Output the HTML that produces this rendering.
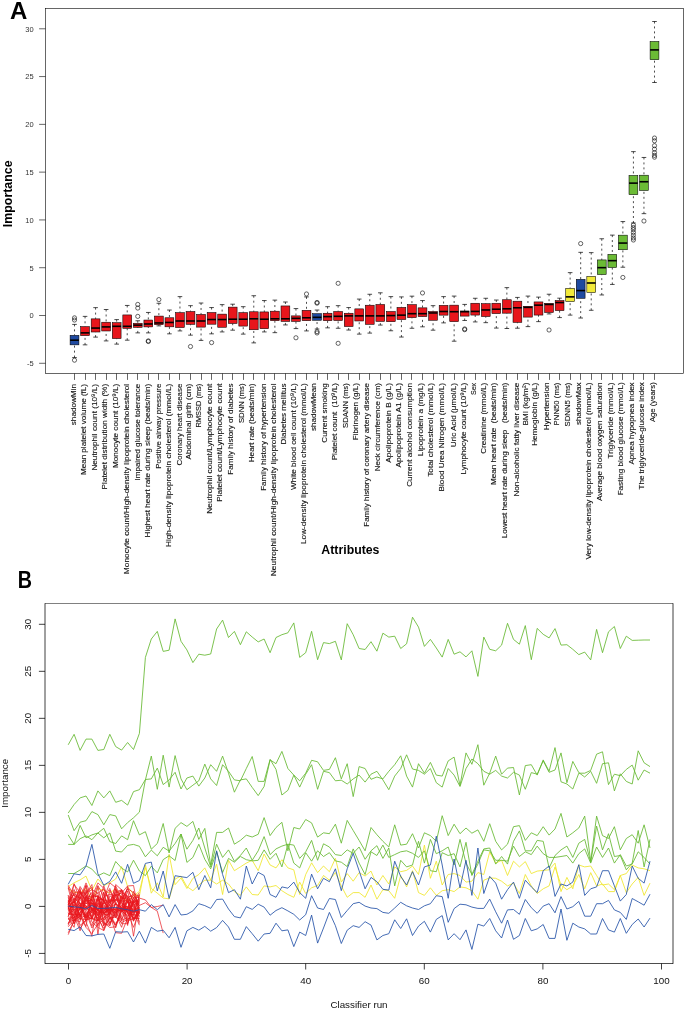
<!DOCTYPE html>
<html lang="en"><head><meta charset="utf-8"><title>Boruta feature importance</title>
<style>
html,body{margin:0;padding:0;background:#fff;}
svg{display:block;font-family:"Liberation Sans",sans-serif;}
.lab{font-size:8px;fill:#151515;stroke:#151515;stroke-width:0.13px;}
.tk{font-size:7.5px;fill:#333;}
.tkb{font-size:9.8px;fill:#111;}
.bold{font-weight:bold;fill:#000;}
</style></head><body>
<svg width="685" height="1009" viewBox="0 0 685 1009">
<rect width="685" height="1009" fill="#fff"/>
<g id="panelA">
<text x="10" y="19.2" class="bold" font-size="24">A</text>
<g stroke="#000" stroke-width="0.6" fill="none">
<rect x="45.5" y="8.5" width="638.1" height="365.0"/>
<path d="M39.1 363.29H45.5M39.1 315.50H45.5M39.1 267.71H45.5M39.1 219.93H45.5M39.1 172.14H45.5M39.1 124.36H45.5M39.1 76.57H45.5M39.1 28.79H45.5M74.5 373.5v6.4M85.5 373.5v6.4M95.5 373.5v6.4M106.5 373.5v6.4M116.5 373.5v6.4M127.5 373.5v6.4M137.5 373.5v6.4M148.5 373.5v6.4M158.5 373.5v6.4M169.5 373.5v6.4M179.5 373.5v6.4M190.5 373.5v6.4M201.5 373.5v6.4M211.5 373.5v6.4M222.5 373.5v6.4M232.5 373.5v6.4M243.5 373.5v6.4M253.5 373.5v6.4M264.5 373.5v6.4M274.5 373.5v6.4M285.5 373.5v6.4M295.5 373.5v6.4M306.5 373.5v6.4M317.5 373.5v6.4M327.5 373.5v6.4M338.5 373.5v6.4M348.5 373.5v6.4M359.5 373.5v6.4M369.5 373.5v6.4M380.5 373.5v6.4M390.5 373.5v6.4M401.5 373.5v6.4M411.5 373.5v6.4M422.5 373.5v6.4M433.5 373.5v6.4M443.5 373.5v6.4M454.5 373.5v6.4M464.5 373.5v6.4M475.5 373.5v6.4M485.5 373.5v6.4M496.5 373.5v6.4M506.5 373.5v6.4M517.5 373.5v6.4M527.5 373.5v6.4M538.5 373.5v6.4M549.5 373.5v6.4M559.5 373.5v6.4M570.5 373.5v6.4M580.5 373.5v6.4M591.5 373.5v6.4M601.5 373.5v6.4M612.5 373.5v6.4M622.5 373.5v6.4M633.5 373.5v6.4M643.5 373.5v6.4M654.5 373.5v6.4"/>
</g>
<text x="33.6" y="366.19" text-anchor="end" class="tk">-5</text>
<text x="33.6" y="318.40" text-anchor="end" class="tk">0</text>
<text x="33.6" y="270.61" text-anchor="end" class="tk">5</text>
<text x="33.6" y="222.83" text-anchor="end" class="tk">10</text>
<text x="33.6" y="175.04" text-anchor="end" class="tk">15</text>
<text x="33.6" y="127.26" text-anchor="end" class="tk">20</text>
<text x="33.6" y="79.47" text-anchor="end" class="tk">25</text>
<text x="33.6" y="31.69" text-anchor="end" class="tk">30</text>
<text transform="translate(12.3 193.8) rotate(-90)" text-anchor="middle" class="bold" font-size="12.4">Importance</text>
<text x="350.4" y="553.6" text-anchor="middle" class="bold" font-size="12.3">Attributes</text>
<g stroke="#000" stroke-width="0.55">
<g>
<path d="M74.50 324.42V335.36M74.50 357.55V344.85" stroke-dasharray="2 2.95" stroke-width="0.7" fill="none"/>
<path d="M72.20 324.42h4.6M72.20 357.55h4.6" stroke-width="0.7" fill="none"/>
<rect x="70.10" y="335.36" width="8.8" height="9.49" fill="#1F4AA0"/>
<path d="M70.10 340.18h8.8" stroke-width="1.6" fill="none"/>
<circle cx="74.50" cy="317.85" r="2.1" fill="none" stroke-width="0.6"/>
<circle cx="74.50" cy="320.04" r="2.1" fill="none" stroke-width="0.6"/>
<circle cx="74.50" cy="360.18" r="2.1" fill="none" stroke-width="0.6"/>
</g>
<g>
<path d="M85.05 316.39V326.61M85.05 344.85V335.66" stroke-dasharray="2 2.95" stroke-width="0.7" fill="none"/>
<path d="M82.75 316.39h4.6M82.75 344.85h4.6" stroke-width="0.7" fill="none"/>
<rect x="80.65" y="326.61" width="8.8" height="9.05" fill="#E8161C"/>
<path d="M80.65 332.88h8.8" stroke-width="1.6" fill="none"/>
</g>
<g>
<path d="M95.59 307.63V318.87M95.59 337.12V332.01" stroke-dasharray="2 2.95" stroke-width="0.7" fill="none"/>
<path d="M93.29 307.63h4.6M93.29 337.12h4.6" stroke-width="0.7" fill="none"/>
<rect x="91.19" y="318.87" width="8.8" height="13.14" fill="#E8161C"/>
<path d="M91.19 328.07h8.8" stroke-width="1.6" fill="none"/>
</g>
<g>
<path d="M106.14 309.53V322.23M106.14 340.91V330.99" stroke-dasharray="2 2.95" stroke-width="0.7" fill="none"/>
<path d="M103.84 309.53h4.6M103.84 340.91h4.6" stroke-width="0.7" fill="none"/>
<rect x="101.74" y="322.23" width="8.8" height="8.76" fill="#E8161C"/>
<path d="M101.74 326.90h8.8" stroke-width="1.6" fill="none"/>
</g>
<g>
<path d="M116.68 319.60V322.66M116.68 344.12V338.58" stroke-dasharray="2 2.95" stroke-width="0.7" fill="none"/>
<path d="M114.38 319.60h4.6M114.38 344.12h4.6" stroke-width="0.7" fill="none"/>
<rect x="112.28" y="322.66" width="8.8" height="15.91" fill="#E8161C"/>
<path d="M112.28 326.31h8.8" stroke-width="1.6" fill="none"/>
</g>
<g>
<path d="M127.23 305.44V314.93M127.23 340.18V328.36" stroke-dasharray="2 2.95" stroke-width="0.7" fill="none"/>
<path d="M124.93 305.44h4.6M124.93 340.18h4.6" stroke-width="0.7" fill="none"/>
<rect x="122.83" y="314.93" width="8.8" height="13.43" fill="#E8161C"/>
<path d="M122.83 326.31h8.8" stroke-width="1.6" fill="none"/>
</g>
<g>
<path d="M137.77 320.77V323.25M137.77 332.88V327.34" stroke-dasharray="2 2.95" stroke-width="0.7" fill="none"/>
<path d="M135.47 320.77h4.6M135.47 332.88h4.6" stroke-width="0.7" fill="none"/>
<rect x="133.37" y="323.25" width="8.8" height="4.09" fill="#E8161C"/>
<path d="M133.37 325.15h8.8" stroke-width="1.6" fill="none"/>
<circle cx="137.77" cy="304.42" r="2.1" fill="none" stroke-width="0.6"/>
<circle cx="137.77" cy="308.07" r="2.1" fill="none" stroke-width="0.6"/>
<circle cx="137.77" cy="316.39" r="2.1" fill="none" stroke-width="0.6"/>
</g>
<g>
<path d="M148.32 312.45V320.04M148.32 332.88V326.90" stroke-dasharray="2 2.95" stroke-width="0.7" fill="none"/>
<path d="M146.02 312.45h4.6M146.02 332.88h4.6" stroke-width="0.7" fill="none"/>
<rect x="143.92" y="320.04" width="8.8" height="6.86" fill="#E8161C"/>
<path d="M143.92 323.98h8.8" stroke-width="1.6" fill="none"/>
<circle cx="148.32" cy="340.91" r="2.1" fill="none" stroke-width="0.6"/>
<circle cx="148.32" cy="341.50" r="2.1" fill="none" stroke-width="0.6"/>
</g>
<g>
<path d="M158.86 303.25V316.09M158.86 325.88V324.71" stroke-dasharray="2 2.95" stroke-width="0.7" fill="none"/>
<path d="M156.56 303.25h4.6M156.56 325.88h4.6" stroke-width="0.7" fill="none"/>
<rect x="154.46" y="316.09" width="8.8" height="8.61" fill="#E8161C"/>
<path d="M154.46 322.96h8.8" stroke-width="1.6" fill="none"/>
<circle cx="158.86" cy="299.60" r="2.1" fill="none" stroke-width="0.6"/>
</g>
<g>
<path d="M169.41 310.04V317.77M169.41 333.83V326.82" stroke-dasharray="2 2.95" stroke-width="0.7" fill="none"/>
<path d="M167.11 310.04h4.6M167.11 333.83h4.6" stroke-width="0.7" fill="none"/>
<rect x="165.01" y="317.77" width="8.8" height="9.05" fill="#E8161C"/>
<path d="M165.01 322.45h8.8" stroke-width="1.6" fill="none"/>
</g>
<g>
<path d="M179.95 296.61V312.66M179.95 330.91V327.55" stroke-dasharray="2 2.95" stroke-width="0.7" fill="none"/>
<path d="M177.65 296.61h4.6M177.65 330.91h4.6" stroke-width="0.7" fill="none"/>
<rect x="175.55" y="312.66" width="8.8" height="14.89" fill="#E8161C"/>
<path d="M175.55 320.99h8.8" stroke-width="1.6" fill="none"/>
</g>
<g>
<path d="M190.50 305.66V311.50M190.50 335.15V324.34" stroke-dasharray="2 2.95" stroke-width="0.7" fill="none"/>
<path d="M188.20 305.66h4.6M188.20 335.15h4.6" stroke-width="0.7" fill="none"/>
<rect x="186.10" y="311.50" width="8.8" height="12.85" fill="#E8161C"/>
<path d="M186.10 320.99h8.8" stroke-width="1.6" fill="none"/>
<circle cx="190.50" cy="346.53" r="2.1" fill="none" stroke-width="0.6"/>
</g>
<g>
<path d="M201.05 303.03V314.42M201.05 340.40V327.12" stroke-dasharray="2 2.95" stroke-width="0.7" fill="none"/>
<path d="M198.75 303.03h4.6M198.75 340.40h4.6" stroke-width="0.7" fill="none"/>
<rect x="196.65" y="314.42" width="8.8" height="12.70" fill="#E8161C"/>
<path d="M196.65 320.99h8.8" stroke-width="1.6" fill="none"/>
</g>
<g>
<path d="M211.59 307.55V312.52M211.59 333.83V324.20" stroke-dasharray="2 2.95" stroke-width="0.7" fill="none"/>
<path d="M209.29 307.55h4.6M209.29 333.83h4.6" stroke-width="0.7" fill="none"/>
<rect x="207.19" y="312.52" width="8.8" height="11.68" fill="#E8161C"/>
<path d="M207.19 319.53h8.8" stroke-width="1.6" fill="none"/>
<circle cx="211.59" cy="342.59" r="2.1" fill="none" stroke-width="0.6"/>
</g>
<g>
<path d="M222.14 304.64V314.12M222.14 331.93V327.26" stroke-dasharray="2 2.95" stroke-width="0.7" fill="none"/>
<path d="M219.84 304.64h4.6M219.84 331.93h4.6" stroke-width="0.7" fill="none"/>
<rect x="217.74" y="314.12" width="8.8" height="13.14" fill="#E8161C"/>
<path d="M217.74 319.53h8.8" stroke-width="1.6" fill="none"/>
</g>
<g>
<path d="M232.68 304.20V307.12M232.68 330.18V323.47" stroke-dasharray="2 2.95" stroke-width="0.7" fill="none"/>
<path d="M230.38 304.20h4.6M230.38 330.18h4.6" stroke-width="0.7" fill="none"/>
<rect x="228.28" y="307.12" width="8.8" height="16.35" fill="#E8161C"/>
<path d="M228.28 319.23h8.8" stroke-width="1.6" fill="none"/>
</g>
<g>
<path d="M243.23 306.68V312.66M243.23 334.12V326.09" stroke-dasharray="2 2.95" stroke-width="0.7" fill="none"/>
<path d="M240.93 306.68h4.6M240.93 334.12h4.6" stroke-width="0.7" fill="none"/>
<rect x="238.83" y="312.66" width="8.8" height="13.43" fill="#E8161C"/>
<path d="M238.83 319.23h8.8" stroke-width="1.6" fill="none"/>
</g>
<g>
<path d="M253.77 295.73V311.79M253.77 342.88V329.74" stroke-dasharray="2 2.95" stroke-width="0.7" fill="none"/>
<path d="M251.47 295.73h4.6M251.47 342.88h4.6" stroke-width="0.7" fill="none"/>
<rect x="249.37" y="311.79" width="8.8" height="17.96" fill="#E8161C"/>
<path d="M249.37 318.80h8.8" stroke-width="1.6" fill="none"/>
</g>
<g>
<path d="M264.32 300.55V311.93M264.32 331.93V328.72" stroke-dasharray="2 2.95" stroke-width="0.7" fill="none"/>
<path d="M262.02 300.55h4.6M262.02 331.93h4.6" stroke-width="0.7" fill="none"/>
<rect x="259.92" y="311.93" width="8.8" height="16.79" fill="#E8161C"/>
<path d="M259.92 319.23h8.8" stroke-width="1.6" fill="none"/>
</g>
<g>
<path d="M274.86 300.11V311.20M274.86 332.66V320.69" stroke-dasharray="2 2.95" stroke-width="0.7" fill="none"/>
<path d="M272.56 300.11h4.6M272.56 332.66h4.6" stroke-width="0.7" fill="none"/>
<rect x="270.46" y="311.20" width="8.8" height="9.49" fill="#E8161C"/>
<path d="M270.46 318.80h8.8" stroke-width="1.6" fill="none"/>
</g>
<g>
<path d="M285.41 302.01V305.95M285.41 324.93V321.42" stroke-dasharray="2 2.95" stroke-width="0.7" fill="none"/>
<path d="M283.11 302.01h4.6M283.11 324.93h4.6" stroke-width="0.7" fill="none"/>
<rect x="281.01" y="305.95" width="8.8" height="15.47" fill="#E8161C"/>
<path d="M281.01 318.80h8.8" stroke-width="1.6" fill="none"/>
</g>
<g>
<path d="M295.95 308.58V315.88M295.95 328.58V321.42" stroke-dasharray="2 2.95" stroke-width="0.7" fill="none"/>
<path d="M293.65 308.58h4.6M293.65 328.58h4.6" stroke-width="0.7" fill="none"/>
<rect x="291.55" y="315.88" width="8.8" height="5.55" fill="#E8161C"/>
<path d="M291.55 318.36h8.8" stroke-width="1.6" fill="none"/>
<circle cx="295.95" cy="337.77" r="2.1" fill="none" stroke-width="0.6"/>
</g>
<g>
<path d="M306.50 296.90V310.33M306.50 330.91V320.69" stroke-dasharray="2 2.95" stroke-width="0.7" fill="none"/>
<path d="M304.20 296.90h4.6M304.20 330.91h4.6" stroke-width="0.7" fill="none"/>
<rect x="302.10" y="310.33" width="8.8" height="10.36" fill="#E8161C"/>
<path d="M302.10 317.77h8.8" stroke-width="1.6" fill="none"/>
<circle cx="306.50" cy="293.98" r="2.1" fill="none" stroke-width="0.6"/>
</g>
<g>
<path d="M317.05 310.04V313.69M317.05 329.01V320.26" stroke-dasharray="2 2.95" stroke-width="0.7" fill="none"/>
<path d="M314.75 310.04h4.6M314.75 329.01h4.6" stroke-width="0.7" fill="none"/>
<rect x="312.65" y="313.69" width="8.8" height="6.57" fill="#1F4AA0"/>
<path d="M312.65 317.34h8.8" stroke-width="1.6" fill="none"/>
<circle cx="317.05" cy="302.45" r="2.1" fill="none" stroke-width="0.6"/>
<circle cx="317.05" cy="303.18" r="2.1" fill="none" stroke-width="0.6"/>
<circle cx="317.05" cy="331.64" r="2.1" fill="none" stroke-width="0.6"/>
<circle cx="317.05" cy="332.96" r="2.1" fill="none" stroke-width="0.6"/>
</g>
<g>
<path d="M327.59 306.68V313.25M327.59 327.85V320.69" stroke-dasharray="2 2.95" stroke-width="0.7" fill="none"/>
<path d="M325.29 306.68h4.6M325.29 327.85h4.6" stroke-width="0.7" fill="none"/>
<rect x="323.19" y="313.25" width="8.8" height="7.45" fill="#E8161C"/>
<path d="M323.19 316.61h8.8" stroke-width="1.6" fill="none"/>
</g>
<g>
<path d="M338.14 305.66V311.50M338.14 328.28V320.55" stroke-dasharray="2 2.95" stroke-width="0.7" fill="none"/>
<path d="M335.84 305.66h4.6M335.84 328.28h4.6" stroke-width="0.7" fill="none"/>
<rect x="333.74" y="311.50" width="8.8" height="9.05" fill="#E8161C"/>
<path d="M333.74 316.31h8.8" stroke-width="1.6" fill="none"/>
<circle cx="338.14" cy="283.32" r="2.1" fill="none" stroke-width="0.6"/>
<circle cx="338.14" cy="343.32" r="2.1" fill="none" stroke-width="0.6"/>
</g>
<g>
<path d="M348.68 307.55V313.25M348.68 330.04V326.53" stroke-dasharray="2 2.95" stroke-width="0.7" fill="none"/>
<path d="M346.38 307.55h4.6M346.38 330.04h4.6" stroke-width="0.7" fill="none"/>
<rect x="344.28" y="313.25" width="8.8" height="13.28" fill="#E8161C"/>
<path d="M344.28 315.88h8.8" stroke-width="1.6" fill="none"/>
</g>
<g>
<path d="M359.23 299.09V308.87M359.23 334.12V320.99" stroke-dasharray="2 2.95" stroke-width="0.7" fill="none"/>
<path d="M356.93 299.09h4.6M356.93 334.12h4.6" stroke-width="0.7" fill="none"/>
<rect x="354.83" y="308.87" width="8.8" height="12.12" fill="#E8161C"/>
<path d="M354.83 315.88h8.8" stroke-width="1.6" fill="none"/>
</g>
<g>
<path d="M369.77 294.27V305.22M369.77 333.10V324.34" stroke-dasharray="2 2.95" stroke-width="0.7" fill="none"/>
<path d="M367.47 294.27h4.6M367.47 333.10h4.6" stroke-width="0.7" fill="none"/>
<rect x="365.37" y="305.22" width="8.8" height="19.12" fill="#E8161C"/>
<path d="M365.37 315.88h8.8" stroke-width="1.6" fill="none"/>
</g>
<g>
<path d="M380.32 292.81V304.49M380.32 325.07V321.42" stroke-dasharray="2 2.95" stroke-width="0.7" fill="none"/>
<path d="M378.02 292.81h4.6M378.02 325.07h4.6" stroke-width="0.7" fill="none"/>
<rect x="375.92" y="304.49" width="8.8" height="16.93" fill="#E8161C"/>
<path d="M375.92 315.88h8.8" stroke-width="1.6" fill="none"/>
</g>
<g>
<path d="M390.86 296.61V311.50M390.86 330.77V321.72" stroke-dasharray="2 2.95" stroke-width="0.7" fill="none"/>
<path d="M388.56 296.61h4.6M388.56 330.77h4.6" stroke-width="0.7" fill="none"/>
<rect x="386.46" y="311.50" width="8.8" height="10.22" fill="#E8161C"/>
<path d="M386.46 315.58h8.8" stroke-width="1.6" fill="none"/>
</g>
<g>
<path d="M401.41 296.90V307.41M401.41 337.04V319.53" stroke-dasharray="2 2.95" stroke-width="0.7" fill="none"/>
<path d="M399.11 296.90h4.6M399.11 337.04h4.6" stroke-width="0.7" fill="none"/>
<rect x="397.01" y="307.41" width="8.8" height="12.12" fill="#E8161C"/>
<path d="M397.01 315.15h8.8" stroke-width="1.6" fill="none"/>
</g>
<g>
<path d="M411.95 296.17V304.64M411.95 328.28V317.63" stroke-dasharray="2 2.95" stroke-width="0.7" fill="none"/>
<path d="M409.65 296.17h4.6M409.65 328.28h4.6" stroke-width="0.7" fill="none"/>
<rect x="407.55" y="304.64" width="8.8" height="12.99" fill="#E8161C"/>
<path d="M407.55 313.69h8.8" stroke-width="1.6" fill="none"/>
</g>
<g>
<path d="M422.50 300.55V307.85M422.50 326.82V316.61" stroke-dasharray="2 2.95" stroke-width="0.7" fill="none"/>
<path d="M420.20 300.55h4.6M420.20 326.82h4.6" stroke-width="0.7" fill="none"/>
<rect x="418.10" y="307.85" width="8.8" height="8.76" fill="#E8161C"/>
<path d="M418.10 313.69h8.8" stroke-width="1.6" fill="none"/>
<circle cx="422.50" cy="292.96" r="2.1" fill="none" stroke-width="0.6"/>
</g>
<g>
<path d="M433.05 305.66V311.50M433.05 330.18V320.26" stroke-dasharray="2 2.95" stroke-width="0.7" fill="none"/>
<path d="M430.75 305.66h4.6M430.75 330.18h4.6" stroke-width="0.7" fill="none"/>
<rect x="428.65" y="311.50" width="8.8" height="8.76" fill="#E8161C"/>
<path d="M428.65 312.96h8.8" stroke-width="1.6" fill="none"/>
</g>
<g>
<path d="M443.59 296.61V305.36M443.59 322.88V315.15" stroke-dasharray="2 2.95" stroke-width="0.7" fill="none"/>
<path d="M441.29 296.61h4.6M441.29 322.88h4.6" stroke-width="0.7" fill="none"/>
<rect x="439.19" y="305.36" width="8.8" height="9.78" fill="#E8161C"/>
<path d="M439.19 311.50h8.8" stroke-width="1.6" fill="none"/>
</g>
<g>
<path d="M454.14 296.09V305.15M454.14 341.20V321.64" stroke-dasharray="2 2.95" stroke-width="0.7" fill="none"/>
<path d="M451.84 296.09h4.6M451.84 341.20h4.6" stroke-width="0.7" fill="none"/>
<rect x="449.74" y="305.15" width="8.8" height="16.50" fill="#E8161C"/>
<path d="M449.74 311.72h8.8" stroke-width="1.6" fill="none"/>
</g>
<g>
<path d="M464.68 304.42V310.99M464.68 320.47V316.09" stroke-dasharray="2 2.95" stroke-width="0.7" fill="none"/>
<path d="M462.38 304.42h4.6M462.38 320.47h4.6" stroke-width="0.7" fill="none"/>
<rect x="460.28" y="310.99" width="8.8" height="5.11" fill="#E8161C"/>
<path d="M460.28 311.72h8.8" stroke-width="1.6" fill="none"/>
<circle cx="464.68" cy="328.94" r="2.1" fill="none" stroke-width="0.6"/>
<circle cx="464.68" cy="329.67" r="2.1" fill="none" stroke-width="0.6"/>
</g>
<g>
<path d="M475.23 298.28V303.25M475.23 321.93V315.07" stroke-dasharray="2 2.95" stroke-width="0.7" fill="none"/>
<path d="M472.93 298.28h4.6M472.93 321.93h4.6" stroke-width="0.7" fill="none"/>
<rect x="470.83" y="303.25" width="8.8" height="11.82" fill="#E8161C"/>
<path d="M470.83 311.42h8.8" stroke-width="1.6" fill="none"/>
</g>
<g>
<path d="M485.77 298.28V303.69M485.77 322.66V316.53" stroke-dasharray="2 2.95" stroke-width="0.7" fill="none"/>
<path d="M483.47 298.28h4.6M483.47 322.66h4.6" stroke-width="0.7" fill="none"/>
<rect x="481.37" y="303.69" width="8.8" height="12.85" fill="#E8161C"/>
<path d="M481.37 309.96h8.8" stroke-width="1.6" fill="none"/>
</g>
<g>
<path d="M496.32 300.04V303.25M496.32 328.07V313.61" stroke-dasharray="2 2.95" stroke-width="0.7" fill="none"/>
<path d="M494.02 300.04h4.6M494.02 328.07h4.6" stroke-width="0.7" fill="none"/>
<rect x="491.92" y="303.25" width="8.8" height="10.36" fill="#E8161C"/>
<path d="M491.92 309.23h8.8" stroke-width="1.6" fill="none"/>
</g>
<g>
<path d="M506.86 287.63V299.74M506.86 328.50V313.18" stroke-dasharray="2 2.95" stroke-width="0.7" fill="none"/>
<path d="M504.56 287.63h4.6M504.56 328.50h4.6" stroke-width="0.7" fill="none"/>
<rect x="502.46" y="299.74" width="8.8" height="13.43" fill="#E8161C"/>
<path d="M502.46 308.80h8.8" stroke-width="1.6" fill="none"/>
</g>
<g>
<path d="M517.41 297.41V301.20M517.41 328.21V322.37" stroke-dasharray="2 2.95" stroke-width="0.7" fill="none"/>
<path d="M515.11 297.41h4.6M515.11 328.21h4.6" stroke-width="0.7" fill="none"/>
<rect x="513.01" y="301.20" width="8.8" height="21.17" fill="#E8161C"/>
<path d="M513.01 307.77h8.8" stroke-width="1.6" fill="none"/>
</g>
<g>
<path d="M527.95 296.09V306.31M527.95 326.61V317.12" stroke-dasharray="2 2.95" stroke-width="0.7" fill="none"/>
<path d="M525.65 296.09h4.6M525.65 326.61h4.6" stroke-width="0.7" fill="none"/>
<rect x="523.55" y="306.31" width="8.8" height="10.80" fill="#E8161C"/>
<path d="M523.55 307.34h8.8" stroke-width="1.6" fill="none"/>
</g>
<g>
<path d="M538.50 297.12V301.93M538.50 321.64V315.07" stroke-dasharray="2 2.95" stroke-width="0.7" fill="none"/>
<path d="M536.20 297.12h4.6M536.20 321.64h4.6" stroke-width="0.7" fill="none"/>
<rect x="534.10" y="301.93" width="8.8" height="13.14" fill="#E8161C"/>
<path d="M534.10 305.15h8.8" stroke-width="1.6" fill="none"/>
</g>
<g>
<path d="M549.05 294.23V303.43M549.05 313.94V312.48" stroke-dasharray="2 2.95" stroke-width="0.7" fill="none"/>
<path d="M546.75 294.23h4.6M546.75 313.94h4.6" stroke-width="0.7" fill="none"/>
<rect x="544.65" y="303.43" width="8.8" height="9.05" fill="#E8161C"/>
<path d="M544.65 304.45h8.8" stroke-width="1.6" fill="none"/>
<circle cx="549.05" cy="330.00" r="2.1" fill="none" stroke-width="0.6"/>
</g>
<g>
<path d="M559.59 298.18V300.51M559.59 317.59V310.58" stroke-dasharray="2 2.95" stroke-width="0.7" fill="none"/>
<path d="M557.29 298.18h4.6M557.29 317.59h4.6" stroke-width="0.7" fill="none"/>
<rect x="555.19" y="300.51" width="8.8" height="10.07" fill="#E8161C"/>
<path d="M555.19 302.55h8.8" stroke-width="1.6" fill="none"/>
</g>
<g>
<path d="M570.14 272.63V288.39M570.14 315.11V301.53" stroke-dasharray="2 2.95" stroke-width="0.7" fill="none"/>
<path d="M567.84 272.63h4.6M567.84 315.11h4.6" stroke-width="0.7" fill="none"/>
<rect x="565.74" y="288.39" width="8.8" height="13.14" fill="#F2EA3A"/>
<path d="M565.74 296.86h8.8" stroke-width="1.6" fill="none"/>
</g>
<g>
<path d="M580.68 252.34V279.34M580.68 318.03V298.32" stroke-dasharray="2 2.95" stroke-width="0.7" fill="none"/>
<path d="M578.38 252.34h4.6M578.38 318.03h4.6" stroke-width="0.7" fill="none"/>
<rect x="576.28" y="279.34" width="8.8" height="18.98" fill="#1F4AA0"/>
<path d="M576.28 290.58h8.8" stroke-width="1.6" fill="none"/>
<circle cx="580.68" cy="243.58" r="2.1" fill="none" stroke-width="0.6"/>
</g>
<g>
<path d="M591.23 252.63V276.42M591.23 310.29V292.48" stroke-dasharray="2 2.95" stroke-width="0.7" fill="none"/>
<path d="M588.93 252.63h4.6M588.93 310.29h4.6" stroke-width="0.7" fill="none"/>
<rect x="586.83" y="276.42" width="8.8" height="16.06" fill="#F2EA3A"/>
<path d="M586.83 282.99h8.8" stroke-width="1.6" fill="none"/>
</g>
<g>
<path d="M601.77 238.76V259.93M601.77 294.96V274.53" stroke-dasharray="2 2.95" stroke-width="0.7" fill="none"/>
<path d="M599.47 238.76h4.6M599.47 294.96h4.6" stroke-width="0.7" fill="none"/>
<rect x="597.37" y="259.93" width="8.8" height="14.60" fill="#6BBB35"/>
<path d="M597.37 267.66h8.8" stroke-width="1.6" fill="none"/>
</g>
<g>
<path d="M612.32 235.11V254.38M612.32 284.45V267.52" stroke-dasharray="2 2.95" stroke-width="0.7" fill="none"/>
<path d="M610.02 235.11h4.6M610.02 284.45h4.6" stroke-width="0.7" fill="none"/>
<rect x="607.92" y="254.38" width="8.8" height="13.14" fill="#6BBB35"/>
<path d="M607.92 260.66h8.8" stroke-width="1.6" fill="none"/>
</g>
<g>
<path d="M622.86 221.57V235.17M622.86 267.23V249.73" stroke-dasharray="2 2.95" stroke-width="0.7" fill="none"/>
<path d="M620.56 221.57h4.6M620.56 267.23h4.6" stroke-width="0.7" fill="none"/>
<rect x="618.46" y="235.17" width="8.8" height="14.57" fill="#6BBB35"/>
<path d="M618.46 243.07h8.8" stroke-width="1.6" fill="none"/>
<circle cx="622.86" cy="277.45" r="2.1" fill="none" stroke-width="0.6"/>
</g>
<g>
<path d="M633.41 151.64V175.50M633.41 222.96V194.65" stroke-dasharray="2 2.95" stroke-width="0.7" fill="none"/>
<path d="M631.11 151.64h4.6M631.11 222.96h4.6" stroke-width="0.7" fill="none"/>
<rect x="629.01" y="175.50" width="8.8" height="19.15" fill="#6BBB35"/>
<path d="M629.01 183.13h8.8" stroke-width="1.6" fill="none"/>
<circle cx="633.41" cy="225.04" r="2.1" fill="none" stroke-width="0.6"/>
<circle cx="633.41" cy="227.53" r="2.1" fill="none" stroke-width="0.6"/>
<circle cx="633.41" cy="229.62" r="2.1" fill="none" stroke-width="0.6"/>
<circle cx="633.41" cy="232.39" r="2.1" fill="none" stroke-width="0.6"/>
<circle cx="633.41" cy="235.17" r="2.1" fill="none" stroke-width="0.6"/>
<circle cx="633.41" cy="237.94" r="2.1" fill="none" stroke-width="0.6"/>
<circle cx="633.41" cy="240.02" r="2.1" fill="none" stroke-width="0.6"/>
</g>
<g>
<path d="M643.95 157.46V175.22M643.95 213.66V190.49" stroke-dasharray="2 2.95" stroke-width="0.7" fill="none"/>
<path d="M641.65 157.46h4.6M641.65 213.66h4.6" stroke-width="0.7" fill="none"/>
<rect x="639.55" y="175.22" width="8.8" height="15.26" fill="#6BBB35"/>
<path d="M639.55 181.75h8.8" stroke-width="1.6" fill="none"/>
<circle cx="643.95" cy="221.01" r="2.1" fill="none" stroke-width="0.6"/>
</g>
<g>
<path d="M654.50 21.50V41.50M654.50 82.50V59.70" stroke-dasharray="2 2.95" stroke-width="0.7" fill="none"/>
<path d="M652.20 21.50h4.6M652.20 82.50h4.6" stroke-width="0.7" fill="none"/>
<rect x="650.10" y="41.50" width="8.8" height="18.20" fill="#6BBB35"/>
<path d="M650.10 49.90h8.8" stroke-width="1.6" fill="none"/>
<circle cx="654.50" cy="138.04" r="2.1" fill="none" stroke-width="0.6"/>
<circle cx="654.50" cy="140.81" r="2.1" fill="none" stroke-width="0.6"/>
<circle cx="654.50" cy="145.67" r="2.1" fill="none" stroke-width="0.6"/>
<circle cx="654.50" cy="149.14" r="2.1" fill="none" stroke-width="0.6"/>
<circle cx="654.50" cy="152.61" r="2.1" fill="none" stroke-width="0.6"/>
<circle cx="654.50" cy="155.38" r="2.1" fill="none" stroke-width="0.6"/>
<circle cx="654.50" cy="157.19" r="2.1" fill="none" stroke-width="0.6"/>
</g>
</g>
<g class="lab">
<text transform="translate(75.90 425.22) rotate(-90)" textLength="41.2" lengthAdjust="spacingAndGlyphs" xml:space="preserve">shadowMin</text>
<text transform="translate(86.05 475.07) rotate(-90)" textLength="91.1" lengthAdjust="spacingAndGlyphs" xml:space="preserve">Mean platelet volume (fL)</text>
<text transform="translate(96.69 470.59) rotate(-90)" textLength="86.6" lengthAdjust="spacingAndGlyphs" xml:space="preserve">Neutrophil count (10⁹/L)</text>
<text transform="translate(107.34 489.39) rotate(-90)" textLength="105.5" lengthAdjust="spacingAndGlyphs" xml:space="preserve">Platelet distribution width (%)</text>
<text transform="translate(117.78 468.07) rotate(-90)" textLength="84.2" lengthAdjust="spacingAndGlyphs" xml:space="preserve">Monocyte count (10⁹/L)</text>
<text transform="translate(128.83 574.13) rotate(-90)" textLength="190.3" lengthAdjust="spacingAndGlyphs" xml:space="preserve">Monocyte count/High-density lipoprotein cholesterol</text>
<text transform="translate(139.67 480.53) rotate(-90)" textLength="96.7" lengthAdjust="spacingAndGlyphs" xml:space="preserve">Impaired glucose tolerance</text>
<text transform="translate(149.62 537.46) rotate(-90)" textLength="153.7" lengthAdjust="spacingAndGlyphs" xml:space="preserve">Highest heart rate during sleep (beats/min)</text>
<text transform="translate(160.66 468.64) rotate(-90)" textLength="84.9" lengthAdjust="spacingAndGlyphs" xml:space="preserve">Positive airway pressure</text>
<text transform="translate(171.01 547.03) rotate(-90)" textLength="163.3" lengthAdjust="spacingAndGlyphs" xml:space="preserve">High-density lipoprotein cholesterol (mmol/L)</text>
<text transform="translate(181.85 465.44) rotate(-90)" textLength="81.7" lengthAdjust="spacingAndGlyphs" xml:space="preserve">Coronary heart disease</text>
<text transform="translate(190.60 459.53) rotate(-90)" textLength="75.9" lengthAdjust="spacingAndGlyphs" xml:space="preserve">Abdominal girth (cm)</text>
<text transform="translate(201.05 427.48) rotate(-90)" textLength="43.8" lengthAdjust="spacingAndGlyphs" xml:space="preserve">RMSSD (ms)</text>
<text transform="translate(212.19 513.63) rotate(-90)" textLength="130.0" lengthAdjust="spacingAndGlyphs" xml:space="preserve">Neutrophil count/Lymphocyte count</text>
<text transform="translate(222.44 501.72) rotate(-90)" textLength="118.2" lengthAdjust="spacingAndGlyphs" xml:space="preserve">Platelet count/Lymphocyte count</text>
<text transform="translate(232.98 474.67) rotate(-90)" textLength="91.1" lengthAdjust="spacingAndGlyphs" xml:space="preserve">Family history of diabetes</text>
<text transform="translate(243.63 423.06) rotate(-90)" textLength="39.6" lengthAdjust="spacingAndGlyphs" xml:space="preserve">SDNN (ms)</text>
<text transform="translate(254.07 462.23) rotate(-90)" textLength="78.8" lengthAdjust="spacingAndGlyphs" xml:space="preserve">Heart rate (beats/min)</text>
<text transform="translate(265.92 490.87) rotate(-90)" textLength="107.4" lengthAdjust="spacingAndGlyphs" xml:space="preserve">Family history of hypertension</text>
<text transform="translate(275.56 576.16) rotate(-90)" textLength="192.7" lengthAdjust="spacingAndGlyphs" xml:space="preserve">Neutrophil count/High-density lipoprotein cholesterol</text>
<text transform="translate(286.41 444.53) rotate(-90)" textLength="61.1" lengthAdjust="spacingAndGlyphs" xml:space="preserve">Diabetes mellitus</text>
<text transform="translate(295.95 489.94) rotate(-90)" textLength="106.6" lengthAdjust="spacingAndGlyphs" xml:space="preserve">White blood cell count (10⁹/L)</text>
<text transform="translate(306.30 543.98) rotate(-90)" textLength="160.7" lengthAdjust="spacingAndGlyphs" xml:space="preserve">Low-density lipoprotein cholesterol (mmol/L)</text>
<text transform="translate(315.75 430.90) rotate(-90)" textLength="47.6" lengthAdjust="spacingAndGlyphs" xml:space="preserve">shadowMean</text>
<text transform="translate(326.69 442.64) rotate(-90)" textLength="59.4" lengthAdjust="spacingAndGlyphs" xml:space="preserve">Current smoking</text>
<text transform="translate(337.44 460.21) rotate(-90)" textLength="77.0" lengthAdjust="spacingAndGlyphs" xml:space="preserve">Platelet count  (10⁹/L)</text>
<text transform="translate(347.68 427.97) rotate(-90)" textLength="44.8" lengthAdjust="spacingAndGlyphs" xml:space="preserve">SDANN (ms)</text>
<text transform="translate(358.33 440.27) rotate(-90)" textLength="57.1" lengthAdjust="spacingAndGlyphs" xml:space="preserve">Fibrinogen (g/L)</text>
<text transform="translate(368.97 526.68) rotate(-90)" textLength="143.5" lengthAdjust="spacingAndGlyphs" xml:space="preserve">Family history of coronary artery disease</text>
<text transform="translate(380.42 471.26) rotate(-90)" textLength="88.2" lengthAdjust="spacingAndGlyphs" xml:space="preserve">Neck circumference (cm)</text>
<text transform="translate(390.56 462.67) rotate(-90)" textLength="79.6" lengthAdjust="spacingAndGlyphs" xml:space="preserve">Apolipoprotein B (g/L)</text>
<text transform="translate(401.21 467.57) rotate(-90)" textLength="84.5" lengthAdjust="spacingAndGlyphs" xml:space="preserve">Apolipoprotein A1 (g/L)</text>
<text transform="translate(412.05 486.76) rotate(-90)" textLength="103.7" lengthAdjust="spacingAndGlyphs" xml:space="preserve">Current alcohol consumption</text>
<text transform="translate(422.80 456.15) rotate(-90)" textLength="73.2" lengthAdjust="spacingAndGlyphs" xml:space="preserve">Lipoprotein a (mg/L)</text>
<text transform="translate(433.35 476.77) rotate(-90)" textLength="93.8" lengthAdjust="spacingAndGlyphs" xml:space="preserve">Total cholesterol (mmol/L)</text>
<text transform="translate(444.09 491.42) rotate(-90)" textLength="108.5" lengthAdjust="spacingAndGlyphs" xml:space="preserve">Blood Urea Nitrogen (mmol/L)</text>
<text transform="translate(455.74 447.22) rotate(-90)" textLength="64.3" lengthAdjust="spacingAndGlyphs" xml:space="preserve">Uric Acid (μmol/L)</text>
<text transform="translate(466.08 474.47) rotate(-90)" textLength="91.6" lengthAdjust="spacingAndGlyphs" xml:space="preserve">Lymphocyte count (10⁹/L)</text>
<text transform="translate(476.23 395.06) rotate(-90)" textLength="12.2" lengthAdjust="spacingAndGlyphs" xml:space="preserve">Sex</text>
<text transform="translate(486.47 453.66) rotate(-90)" textLength="70.9" lengthAdjust="spacingAndGlyphs" xml:space="preserve">Creatinine (mmol/L)</text>
<text transform="translate(496.42 484.96) rotate(-90)" textLength="102.2" lengthAdjust="spacingAndGlyphs" xml:space="preserve">Mean heart rate  (beats/min)</text>
<text transform="translate(507.36 538.19) rotate(-90)" textLength="155.5" lengthAdjust="spacingAndGlyphs" xml:space="preserve">Lowest heart rate during sleep   (beats/min)</text>
<text transform="translate(518.61 496.47) rotate(-90)" textLength="113.8" lengthAdjust="spacingAndGlyphs" xml:space="preserve">Non-alcoholic fatty liver disease</text>
<text transform="translate(528.45 425.62) rotate(-90)" textLength="43.0" lengthAdjust="spacingAndGlyphs" xml:space="preserve">BMI (kg/m²)</text>
<text transform="translate(537.20 445.86) rotate(-90)" textLength="63.2" lengthAdjust="spacingAndGlyphs" xml:space="preserve">Hemoglobin (g/L)</text>
<text transform="translate(549.05 430.29) rotate(-90)" textLength="47.7" lengthAdjust="spacingAndGlyphs" xml:space="preserve">Hypertension</text>
<text transform="translate(558.59 425.42) rotate(-90)" textLength="42.8" lengthAdjust="spacingAndGlyphs" xml:space="preserve">PNN50 (ms)</text>
<text transform="translate(570.14 426.46) rotate(-90)" textLength="43.9" lengthAdjust="spacingAndGlyphs" xml:space="preserve">SDNN5 (ms)</text>
<text transform="translate(580.88 425.04) rotate(-90)" textLength="42.5" lengthAdjust="spacingAndGlyphs" xml:space="preserve">shadowMax</text>
<text transform="translate(591.03 559.49) rotate(-90)" textLength="177.0" lengthAdjust="spacingAndGlyphs" xml:space="preserve">Very low-density lipoprotein cholesterol (mmol/L)</text>
<text transform="translate(602.17 500.98) rotate(-90)" textLength="118.5" lengthAdjust="spacingAndGlyphs" xml:space="preserve">Average blood oxygen saturation</text>
<text transform="translate(612.52 458.45) rotate(-90)" textLength="76.0" lengthAdjust="spacingAndGlyphs" xml:space="preserve">Triglyceride (mmol/L)</text>
<text transform="translate(623.36 495.37) rotate(-90)" textLength="113.0" lengthAdjust="spacingAndGlyphs" xml:space="preserve">Fasting blood glucose (mmol/L)</text>
<text transform="translate(633.91 464.55) rotate(-90)" textLength="82.2" lengthAdjust="spacingAndGlyphs" xml:space="preserve">Apnea hypopnea index</text>
<text transform="translate(643.75 489.53) rotate(-90)" textLength="107.2" lengthAdjust="spacingAndGlyphs" xml:space="preserve">The triglyceride-glucose index</text>
<text transform="translate(655.20 422.09) rotate(-90)" textLength="39.8" lengthAdjust="spacingAndGlyphs" xml:space="preserve">Age (years)</text>
</g>
</g>
<g id="panelB">
<text transform="translate(17.8 588) scale(0.85 1)" class="bold" font-size="23.2">B</text>
<polyline fill="none" stroke="#F0E62C" stroke-width="0.85" stroke-linejoin="round" points="68.2,886.6 74.1,882.8 80.1,879.9 86.0,876.1 91.9,890.4 97.9,879.0 103.8,885.6 109.8,882.8 115.7,879.0 121.6,866.6 127.6,886.6 133.5,894.2 139.4,896.1 145.4,864.7 151.3,893.2 157.3,882.8 163.2,897.0 169.1,854.3 175.1,884.7 181.0,878.0 186.9,888.5 192.9,878.3 198.8,874.5 204.8,867.9 210.7,880.2 216.6,864.1 222.6,894.5 228.5,860.3 234.4,870.7 240.4,866.9 246.3,863.1 252.2,860.3 258.2,870.7 264.1,854.0 270.1,865.0 276.0,867.9 281.9,859.7 287.9,867.9 293.8,869.8 299.7,894.5 305.7,874.5 311.6,862.8 317.6,872.6 323.5,866.0 329.4,871.7 335.4,858.4 341.3,882.1 347.2,873.6 353.2,881.2 359.1,872.6 365.1,876.0 371.0,871.1 376.9,885.0 382.9,875.5 388.8,884.0 394.7,866.9 400.7,871.7 406.6,870.4 412.5,866.0 418.5,874.5 424.4,845.1 430.4,878.3 436.3,861.2 442.2,885.0 448.2,874.5 454.1,873.6 460.0,875.5 466.0,882.1 471.9,881.2 477.9,872.6 483.8,874.5 489.7,852.1 495.7,863.1 501.6,860.3 507.5,875.5 513.5,861.2 519.4,866.9 525.3,861.6 531.3,873.6 537.2,871.1 543.2,870.4 549.1,869.8 555.0,863.1 561.0,891.6 566.9,877.4 572.8,888.8 578.8,865.0 584.7,866.9 590.7,866.0 596.6,875.5 602.5,885.0 608.5,884.0 614.4,889.7 620.3,875.5 626.3,873.6 632.2,865.0 638.2,867.9 644.1,868.8 650.0,870.7"/>
<polyline fill="none" stroke="#F0E62C" stroke-width="0.85" stroke-linejoin="round" points="68.2,888.5 74.1,892.3 80.1,893.2 86.0,888.5 91.9,899.9 97.9,888.5 103.8,890.4 109.8,893.2 115.7,888.5 121.6,898.0 127.6,900.8 133.5,896.1 139.4,891.3 145.4,867.6 151.3,888.5 157.3,893.2 163.2,898.0 169.1,898.9 175.1,879.0 181.0,876.1 186.9,886.6 192.9,890.7 198.8,885.0 204.8,880.2 210.7,880.2 216.6,884.0 222.6,880.2 228.5,884.0 234.4,891.6 240.4,895.4 246.3,886.9 252.2,894.5 258.2,895.0 264.1,885.9 270.1,886.9 276.0,885.5 281.9,890.7 287.9,894.5 293.8,897.3 299.7,882.1 305.7,893.5 311.6,887.8 317.6,885.5 323.5,875.5 329.4,880.2 335.4,872.6 341.3,885.9 347.2,897.3 353.2,892.6 359.1,892.6 365.1,897.3 371.0,885.0 376.9,899.2 382.9,889.7 388.8,890.7 394.7,898.3 400.7,875.5 406.6,886.9 412.5,870.7 418.5,892.6 424.4,895.4 430.4,887.8 436.3,895.4 442.2,890.7 448.2,889.7 454.1,891.6 460.0,886.9 466.0,887.8 471.9,890.7 477.9,899.2 483.8,880.2 489.7,877.9 495.7,878.3 501.6,881.2 507.5,885.9 513.5,883.1 519.4,893.5 525.3,874.5 531.3,885.9 537.2,893.5 543.2,888.8 549.1,885.9 555.0,866.9 561.0,885.0 566.9,889.7 572.8,885.9 578.8,874.5 584.7,888.8 590.7,872.6 596.6,885.9 602.5,884.0 608.5,891.6 614.4,891.6 620.3,875.5 626.3,892.6 632.2,884.0 638.2,877.4 644.1,895.4 650.0,883.1"/>
<g fill="none" stroke="#E8161C" stroke-width="0.7" stroke-linejoin="round">
<polyline points="68.2,932.8 74.1,920.6 80.1,916.0 86.0,927.4 91.9,933.6 97.9,924.0 103.8,919.9 109.8,915.2 115.7,932.7 121.6,933.3 127.6,918.1 133.5,919.9 139.4,911.9"/>
<polyline points="68.2,907.9 74.1,919.9 80.1,921.8 86.0,895.8 91.9,921.9 97.9,927.4 103.8,930.5 109.8,917.7 115.7,917.2 121.6,922.6 127.6,919.4 133.5,915.8 139.4,911.1"/>
<polyline points="68.2,909.6 74.1,916.1 80.1,930.8 86.0,912.5 91.9,928.0 97.9,918.9 103.8,928.4 109.8,917.6 115.7,923.3 121.6,916.0 127.6,897.7 133.5,918.0 139.4,911.4"/>
<polyline points="68.2,934.7 74.1,920.9 80.1,908.2 86.0,918.3 91.9,912.1 97.9,915.7 103.8,930.5 109.8,909.5 115.7,927.9 121.6,907.6 127.6,923.8 133.5,907.9 139.4,917.0"/>
<polyline points="68.2,906.3 74.1,923.8 80.1,905.8 86.0,918.4 91.9,902.8 97.9,910.0 103.8,915.4 109.8,925.8 115.7,908.4 121.6,911.8 127.6,898.6 133.5,921.3 139.4,910.8"/>
<polyline points="68.2,913.3 74.1,914.4 80.1,914.8 86.0,914.9 91.9,919.0 97.9,921.1 103.8,917.9 109.8,912.8 115.7,908.8 121.6,910.8 127.6,910.4 133.5,911.9 139.4,912.3"/>
<polyline points="68.2,913.7 74.1,910.3 80.1,904.5 86.0,916.6 91.9,918.7 97.9,903.5 103.8,913.3 109.8,909.2 115.7,909.7 121.6,921.3 127.6,900.7 133.5,904.5 139.4,913.7"/>
<polyline points="68.2,908.3 74.1,912.8 80.1,919.4 86.0,914.5 91.9,911.0 97.9,905.7 103.8,908.6 109.8,913.3 115.7,904.0 121.6,919.2 127.6,908.0 133.5,905.7 139.4,915.8"/>
<polyline points="68.2,926.8 74.1,920.1 80.1,911.4 86.0,909.2 91.9,901.5 97.9,920.9 103.8,913.2 109.8,908.3 115.7,914.4 121.6,927.3 127.6,907.1 133.5,898.2 139.4,905.6"/>
<polyline points="68.2,923.2 74.1,916.9 80.1,909.0 86.0,885.0 91.9,904.1 97.9,910.4 103.8,892.4 109.8,912.8 115.7,888.6 121.6,920.3 127.6,917.7 133.5,902.8 139.4,894.0"/>
<polyline points="68.2,904.8 74.1,908.5 80.1,928.6 86.0,919.5 91.9,918.4 97.9,917.5 103.8,905.5 109.8,915.4 115.7,903.3 121.6,910.9 127.6,915.4 133.5,910.5 139.4,907.2"/>
<polyline points="68.2,902.7 74.1,916.9 80.1,914.3 86.0,926.3 91.9,894.7 97.9,896.3 103.8,913.7 109.8,916.9 115.7,925.0 121.6,910.0 127.6,909.6 133.5,891.3 139.4,909.2"/>
<polyline points="68.2,918.0 74.1,927.3 80.1,896.6 86.0,908.5 91.9,926.1 97.9,908.6 103.8,926.1 109.8,895.8 115.7,899.4 121.6,904.8 127.6,912.1 133.5,927.3 139.4,911.6"/>
<polyline points="68.2,925.4 74.1,903.8 80.1,925.4 86.0,920.4 91.9,896.9 97.9,892.9 103.8,923.4 109.8,925.4 115.7,900.7 121.6,901.0 127.6,921.2 133.5,918.0 139.4,918.0"/>
<polyline points="68.2,923.7 74.1,919.4 80.1,892.9 86.0,900.6 91.9,892.5 97.9,911.3 103.8,911.9 109.8,923.5 115.7,911.8 121.6,923.7 127.6,923.7 133.5,900.5 139.4,892.5"/>
<polyline points="68.2,900.7 74.1,895.1 80.1,907.2 86.0,918.2 91.9,909.1 97.9,914.3 103.8,922.6 109.8,927.5 115.7,926.8 121.6,910.1 127.6,908.4 133.5,915.4 139.4,894.9"/>
<polyline points="68.2,906.9 74.1,900.9 80.1,891.3 86.0,922.0 91.9,936.2 97.9,898.3 103.8,920.0 109.8,889.9 115.7,904.6 121.6,894.5 127.6,898.1 133.5,936.2 139.4,898.8"/>
<polyline points="68.2,919.5 74.1,920.7 80.1,916.2 86.0,899.3 91.9,897.6 97.9,895.8 103.8,925.4 109.8,918.4 115.7,925.4 121.6,911.5 127.6,901.6 133.5,920.8 139.4,906.6"/>
<polyline points="68.2,907.8 74.1,901.6 80.1,916.2 86.0,916.2 91.9,915.7 97.9,895.7 103.8,901.0 109.8,910.6 115.7,907.8 121.6,908.7 127.6,908.0 133.5,911.3 139.4,912.3"/>
<polyline points="68.2,918.5 74.1,918.0 80.1,890.3 86.0,902.7 91.9,908.8 97.9,912.4 103.8,908.8 109.8,905.1 115.7,918.0 121.6,907.1 127.6,906.5 133.5,918.5 139.4,918.5"/>
<polyline points="68.2,914.4 74.1,914.7 80.1,904.6 86.0,921.4 91.9,910.6 97.9,912.4 103.8,912.4 109.8,908.7 115.7,903.4 121.6,908.8 127.6,909.9 133.5,912.4 139.4,909.9"/>
<polyline points="68.2,900.7 74.1,912.1 80.1,918.6 86.0,919.6 91.9,918.3 97.9,920.7 103.8,899.1 109.8,905.6 115.7,910.7 121.6,896.0 127.6,914.4 133.5,902.1 139.4,901.7"/>
<polyline points="68.2,917.1 74.1,917.2 80.1,913.3 86.0,901.8 91.9,899.4 97.9,915.1 103.8,900.9 109.8,909.9 115.7,909.9 121.6,910.9 127.6,909.5 133.5,918.8 139.4,913.7"/>
<polyline points="68.2,916.6 74.1,903.5 80.1,893.9 86.0,893.9 91.9,909.8 97.9,920.3 103.8,910.3 109.8,914.3 115.7,893.9 121.6,902.9 127.6,912.7 133.5,900.1 139.4,903.1"/>
<polyline points="68.2,923.5 74.1,912.7 80.1,909.4 86.0,906.6 91.9,905.3 97.9,910.5 103.8,904.7 109.8,913.3 115.7,916.8 121.6,895.8 127.6,902.8 133.5,901.9 139.4,923.5"/>
<polyline points="68.2,908.5 74.1,898.5 80.1,919.9 86.0,895.6 91.9,910.7 97.9,902.7 103.8,908.1 109.8,904.6 115.7,894.5 121.6,910.9 127.6,890.9 133.5,914.7 139.4,916.2"/>
<polyline points="68.2,895.4 74.1,923.9 80.1,912.7 86.0,892.2 91.9,887.4 97.9,926.5 103.8,898.7 109.8,882.9 115.7,887.6 121.6,910.6 127.6,916.4 133.5,911.5 139.4,925.2"/>
<polyline points="68.2,910.5 74.1,909.4 80.1,908.8 86.0,890.0 91.9,910.0 97.9,918.6 103.8,891.9 109.8,918.6 115.7,913.1 121.6,908.7 127.6,911.7 133.5,918.6 139.4,910.3"/>
<polyline points="68.2,887.8 74.1,911.7 80.1,907.7 86.0,896.9 91.9,900.1 97.9,899.9 103.8,899.1 109.8,923.3 115.7,913.9 121.6,905.4 127.6,902.2 133.5,895.4 139.4,902.5"/>
<polyline points="68.2,908.5 74.1,905.7 80.1,908.2 86.0,903.5 91.9,899.2 97.9,909.5 103.8,914.3 109.8,914.7 115.7,894.9 121.6,893.0 127.6,896.0 133.5,897.3 139.4,897.6"/>
<polyline points="68.2,904.6 74.1,897.4 80.1,916.1 86.0,906.8 91.9,912.6 97.9,896.7 103.8,910.9 109.8,905.8 115.7,900.3 121.6,889.9 127.6,913.2 133.5,914.8 139.4,895.7"/>
<polyline points="68.2,912.7 74.1,901.3 80.1,908.8 86.0,905.4 91.9,918.0 97.9,899.4 103.8,908.3 109.8,911.2 115.7,889.4 121.6,899.4 127.6,888.9 133.5,901.6 139.4,907.2"/>
<polyline points="68.2,903.1 74.1,893.9 80.1,904.1 86.0,900.6 91.9,900.1 97.9,910.6 103.8,903.0 109.8,907.6 115.7,913.0 121.6,897.5 127.6,899.0 133.5,903.3 139.4,910.6"/>
<polyline points="68.2,916.5 74.1,898.5 80.1,903.3 86.0,916.3 91.9,903.0 97.9,914.9 103.8,902.7 109.8,901.3 115.7,899.6 121.6,900.7 127.6,901.1 133.5,911.8 139.4,905.6"/>
<polyline points="68.2,909.7 74.1,905.9 80.1,898.9 86.0,894.1 91.9,884.5 97.9,934.5 103.8,897.1 109.8,905.4 115.7,884.5 121.6,889.8 127.6,925.5 133.5,897.1 139.4,909.9"/>
<polyline points="68.2,897.5 74.1,908.1 80.1,903.2 86.0,903.4 91.9,903.2 97.9,905.7 103.8,912.2 109.8,900.3 115.7,897.5 121.6,903.0 127.6,907.9 133.5,901.6 139.4,899.8"/>
<polyline points="68.2,904.1 74.1,902.5 80.1,888.4 86.0,913.5 91.9,907.9 97.9,915.6 103.8,909.3 109.8,909.7 115.7,911.9 121.6,909.3 127.6,886.6 133.5,904.3 139.4,903.5"/>
<polyline points="68.2,886.6 74.1,901.6 80.1,916.3 86.0,896.6 91.9,911.0 97.9,886.6 103.8,914.4 109.8,907.2 115.7,916.3 121.6,899.9 127.6,911.9 133.5,901.7 139.4,905.0"/>
<polyline points="68.2,905.6 74.1,892.0 80.1,892.1 86.0,899.7 91.9,908.1 97.9,909.5 103.8,897.9 109.8,888.4 115.7,904.2 121.6,907.1 127.6,906.3 133.5,909.7 139.4,908.7"/>
<polyline points="68.2,902.1 74.1,883.7 80.1,899.8 86.0,905.6 91.9,918.0 97.9,897.4 103.8,900.1 109.8,913.6 115.7,912.0 121.6,900.3 127.6,888.4 133.5,892.7 139.4,897.5"/>
<polyline points="68.2,904.5 74.1,893.1 80.1,899.0 86.0,885.8 91.9,918.9 97.9,905.3 103.8,885.8 109.8,903.5 115.7,885.8 121.6,899.6 127.6,896.2 133.5,905.4 139.4,921.7"/>
<polyline points="68.2,907.2 74.1,884.5 80.1,892.5 86.0,892.9 91.9,889.7 97.9,893.2 103.8,889.1 109.8,900.8 115.7,900.4 121.6,889.5 127.6,901.6 133.5,910.4 139.4,900.4"/>
<polyline points="68.2,902.2 74.1,889.5 80.1,904.1 86.0,907.9 91.9,899.9 97.9,885.5 103.8,896.7 109.8,894.4 115.7,896.1 121.6,893.0 127.6,886.0 133.5,885.5 139.4,914.3"/>
<polyline points="68.2,885.2 74.1,895.6 80.1,898.0 86.0,882.9 91.9,896.8 97.9,882.9 103.8,888.2 109.8,903.3 115.7,891.8 121.6,889.9 127.6,896.5 133.5,907.7 139.4,898.1 145.4,899.9 151.3,907.4 157.3,906.5 163.2,905.2"/>
<polyline points="68.2,895.3 74.1,903.0 80.1,886.5 86.0,895.7 91.9,897.0 97.9,896.2 103.8,900.3 109.8,900.2 115.7,892.9 121.6,891.0 127.6,897.9 133.5,894.4 139.4,905.4 145.4,902.7 151.3,907.4 157.3,911.2 163.2,933.1"/>
</g>
<polyline fill="none" stroke="#66B830" stroke-width="0.85" stroke-linejoin="round" points="68.2,744.8 74.1,734.3 80.1,750.4 86.0,739.1 91.9,739.1 97.9,750.4 103.8,749.5 109.8,734.3 115.7,746.6 121.6,750.1 127.6,742.5 133.5,749.5 139.4,733.4 145.4,657.4 151.3,639.0 157.3,631.4 163.2,651.4 169.1,650.2 175.1,618.9 181.0,641.3 186.9,649.9 192.9,662.6 198.8,654.2 204.8,655.2 210.7,654.0 216.6,629.0 222.6,620.1 228.5,637.5 234.4,631.4 240.4,644.7 246.3,631.8 252.2,637.0 258.2,641.9 264.1,639.0 270.1,652.7 276.0,637.5 281.9,634.7 287.9,632.8 293.8,622.9 299.7,657.4 305.7,652.7 311.6,631.3 317.6,659.7 323.5,642.6 329.4,643.6 335.4,641.3 341.3,659.9 347.2,623.7 353.2,634.7 359.1,648.5 365.1,649.5 371.0,641.7 376.9,651.2 382.9,633.2 388.8,637.1 394.7,636.2 400.7,648.5 406.6,643.8 412.5,617.2 418.5,627.1 424.4,646.4 430.4,639.4 436.3,648.0 442.2,657.1 448.2,639.4 454.1,654.2 460.0,651.8 466.0,656.9 471.9,650.8 477.9,676.4 483.8,637.1 489.7,649.3 495.7,650.8 501.6,645.1 507.5,623.3 513.5,639.4 519.4,644.2 525.3,625.6 531.3,659.7 537.2,628.4 543.2,634.3 549.1,637.9 555.0,628.6 561.0,645.1 566.9,644.7 572.8,649.3 578.8,654.6 584.7,652.1 590.7,659.9 596.6,629.4 602.5,652.7 608.5,631.8 614.4,626.5 620.3,648.5 626.3,636.2 632.2,640.4 638.2,640.2 644.1,640.0 650.0,640.0"/>
<polyline fill="none" stroke="#66B830" stroke-width="0.85" stroke-linejoin="round" points="68.2,813.1 74.1,804.5 80.1,797.9 86.0,796.0 91.9,805.5 97.9,790.9 103.8,797.9 109.8,790.9 115.7,802.3 121.6,800.4 127.6,805.1 133.5,791.6 139.4,789.7 145.4,779.5 151.3,778.9 157.3,768.1 163.2,784.6 169.1,779.9 175.1,772.3 181.0,789.0 186.9,778.0 192.9,776.1 198.8,786.1 204.8,778.0 210.7,764.7 216.6,771.3 222.6,756.1 228.5,773.2 234.4,792.2 240.4,779.9 246.3,778.9 252.2,787.4 258.2,795.6 264.1,786.5 270.1,759.9 276.0,763.7 281.9,751.4 287.9,768.5 293.8,775.1 299.7,780.8 305.7,773.2 311.6,760.3 317.6,761.8 323.5,770.4 329.4,769.4 335.4,757.7 341.3,778.9 347.2,763.7 353.2,796.6 359.1,766.6 365.1,768.5 371.0,779.3 376.9,777.0 382.9,778.9 388.8,771.3 394.7,764.7 400.7,755.8 406.6,776.1 412.5,787.1 418.5,763.7 424.4,773.2 430.4,762.4 436.3,775.1 442.2,776.1 448.2,760.9 454.1,757.1 460.0,785.5 466.0,752.9 471.9,764.3 477.9,744.7 483.8,785.2 489.7,773.2 495.7,756.1 501.6,774.2 507.5,768.1 513.5,767.5 519.4,795.0 525.3,765.6 531.3,764.7 537.2,775.1 543.2,759.9 549.1,771.3 555.0,747.6 561.0,781.8 566.9,784.0 572.8,789.0 578.8,773.2 584.7,773.2 590.7,770.4 596.6,754.2 602.5,751.8 608.5,784.6 614.4,774.2 620.3,775.7 626.3,769.4 632.2,765.1 638.2,780.2 644.1,770.0 650.0,773.2"/>
<polyline fill="none" stroke="#66B830" stroke-width="0.85" stroke-linejoin="round" points="68.2,815.0 74.1,830.7 80.1,822.2 86.0,820.7 91.9,811.6 97.9,814.6 103.8,824.8 109.8,814.6 115.7,815.9 121.6,828.8 127.6,822.6 133.5,817.8 139.4,812.1 145.4,779.9 151.3,756.1 157.3,789.3 163.2,755.2 169.1,787.1 175.1,755.6 181.0,778.9 186.9,789.7 192.9,785.2 198.8,780.8 204.8,764.1 210.7,778.9 216.6,785.5 222.6,764.7 228.5,771.3 234.4,779.9 240.4,780.8 246.3,768.5 252.2,756.5 258.2,781.4 264.1,781.4 270.1,759.4 276.0,769.4 281.9,795.0 287.9,790.3 293.8,775.1 299.7,787.1 305.7,774.2 311.6,764.7 317.6,789.3 323.5,771.3 329.4,772.6 335.4,780.8 341.3,780.2 347.2,784.0 353.2,778.9 359.1,775.1 365.1,782.1 371.0,774.2 376.9,771.3 382.9,779.9 388.8,789.7 394.7,776.1 400.7,768.5 406.6,754.8 412.5,769.0 418.5,770.4 424.4,774.2 430.4,768.5 436.3,782.7 442.2,787.1 448.2,768.5 454.1,775.1 460.0,786.5 466.0,768.5 471.9,759.0 477.9,763.7 483.8,771.3 489.7,774.2 495.7,770.4 501.6,776.1 507.5,778.0 513.5,772.3 519.4,775.1 525.3,789.3 531.3,772.6 537.2,774.2 543.2,760.9 549.1,772.3 555.0,770.0 561.0,752.9 566.9,782.7 572.8,761.4 578.8,772.6 584.7,777.0 590.7,771.3 596.6,783.3 602.5,763.7 608.5,762.8 614.4,790.9 620.3,773.8 626.3,781.4 632.2,784.0 638.2,750.8 644.1,762.8 650.0,766.6"/>
<polyline fill="none" stroke="#66B830" stroke-width="0.85" stroke-linejoin="round" points="68.2,834.9 74.1,844.4 80.1,825.4 86.0,837.8 91.9,834.9 97.9,833.0 103.8,828.3 109.8,841.6 115.7,843.5 121.6,835.9 127.6,839.7 133.5,820.7 139.4,834.9 145.4,831.7 151.3,849.2 157.3,843.5 163.2,823.5 169.1,853.0 175.1,828.3 181.0,822.6 186.9,826.4 192.9,821.4 198.8,839.4 204.8,828.4 210.7,865.0 216.6,832.4 222.6,832.4 228.5,828.0 234.4,844.2 240.4,840.4 246.3,835.2 252.2,837.0 258.2,834.3 264.1,817.6 270.1,835.6 276.0,827.5 281.9,822.3 287.9,850.8 293.8,827.5 299.7,829.0 305.7,819.5 311.6,822.9 317.6,837.1 323.5,832.8 329.4,833.7 335.4,824.2 341.3,843.2 347.2,820.4 353.2,830.5 359.1,840.4 365.1,850.8 371.0,827.5 376.9,834.7 382.9,841.3 388.8,847.0 394.7,824.8 400.7,845.1 406.6,844.2 412.5,833.7 418.5,848.0 424.4,832.8 430.4,835.6 436.3,841.3 442.2,815.7 448.2,835.6 454.1,824.2 460.0,833.7 466.0,828.0 471.9,833.2 477.9,829.9 483.8,841.3 489.7,823.7 495.7,841.3 501.6,849.9 507.5,844.2 513.5,826.7 519.4,825.6 525.3,840.4 531.3,832.8 537.2,835.6 543.2,826.7 549.1,835.1 555.0,829.0 561.0,813.4 566.9,837.0 572.8,832.8 578.8,828.0 584.7,816.1 590.7,861.2 596.6,816.1 602.5,835.6 608.5,838.5 614.4,826.7 620.3,849.9 626.3,838.5 632.2,834.7 638.2,843.2 644.1,824.8 650.0,848.0"/>
<polyline fill="none" stroke="#66B830" stroke-width="0.85" stroke-linejoin="round" points="68.2,844.4 74.1,844.4 80.1,838.7 86.0,835.9 91.9,839.7 97.9,833.0 103.8,837.8 109.8,833.0 115.7,851.1 121.6,852.0 127.6,845.4 133.5,844.4 139.4,846.3 145.4,856.8 151.3,850.1 157.3,855.8 163.2,847.3 169.1,851.1 175.1,843.5 181.0,834.0 186.9,849.2 192.9,840.4 198.8,828.0 204.8,848.0 210.7,866.9 216.6,844.2 222.6,857.4 228.5,849.9 234.4,861.2 240.4,855.5 246.3,848.0 252.2,860.3 258.2,850.8 264.1,836.6 270.1,854.6 276.0,848.9 281.9,846.1 287.9,844.2 293.8,845.1 299.7,858.4 305.7,851.8 311.6,840.4 317.6,860.3 323.5,843.8 329.4,847.0 335.4,854.6 341.3,855.5 347.2,849.9 353.2,853.3 359.1,847.0 365.1,859.3 371.0,850.8 376.9,845.7 382.9,858.4 388.8,848.0 394.7,885.9 400.7,860.3 406.6,866.9 412.5,865.0 418.5,841.3 424.4,863.1 430.4,839.4 436.3,853.7 442.2,850.8 448.2,847.0 454.1,865.0 460.0,839.4 466.0,863.1 471.9,874.5 477.9,861.2 483.8,848.9 489.7,848.0 495.7,864.1 501.6,856.5 507.5,864.1 513.5,841.3 519.4,830.9 525.3,850.8 531.3,850.8 537.2,840.4 543.2,841.3 549.1,867.9 555.0,855.5 561.0,849.9 566.9,846.1 572.8,857.4 578.8,843.2 584.7,839.4 590.7,862.2 596.6,826.1 602.5,849.9 608.5,833.7 614.4,856.5 620.3,855.5 626.3,869.8 632.2,863.1 638.2,830.5 644.1,866.9 650.0,839.4"/>
<polyline fill="none" stroke="#66B830" stroke-width="0.85" stroke-linejoin="round" points="68.2,873.5 74.1,873.5 80.1,870.0 86.0,865.9 91.9,869.1 97.9,875.7 103.8,872.9 109.8,875.7 115.7,861.5 121.6,868.1 127.6,871.9 133.5,860.2 139.4,871.0 145.4,875.7 151.3,866.2 157.3,872.9 163.2,859.6 169.1,855.8 175.1,860.5 181.0,834.0 186.9,862.4 192.9,857.4 198.8,844.2 204.8,859.3 210.7,868.8 216.6,851.8 222.6,872.6 228.5,858.4 234.4,862.2 240.4,856.5 246.3,859.7 252.2,860.9 258.2,860.3 264.1,849.9 270.1,859.3 276.0,853.3 281.9,866.9 287.9,844.2 293.8,863.1 299.7,867.9 305.7,852.7 311.6,861.2 317.6,850.8 323.5,856.5 329.4,852.7 335.4,860.9 341.3,862.2 347.2,866.6 353.2,848.9 359.1,863.1 365.1,874.5 371.0,851.8 376.9,855.5 382.9,845.1 388.8,857.4 394.7,854.6 400.7,851.8 406.6,850.8 412.5,853.3 418.5,857.4 424.4,850.8 430.4,870.7 436.3,871.7 442.2,852.7 448.2,855.5 454.1,853.7 460.0,866.9 466.0,842.3 471.9,875.5 477.9,864.1 483.8,849.9 489.7,850.8 495.7,860.3 501.6,860.3 507.5,861.2 513.5,846.1 519.4,856.5 525.3,851.8 531.3,854.6 537.2,846.1 543.2,853.7 549.1,857.4 555.0,857.4 561.0,856.5 566.9,855.5 572.8,863.1 578.8,853.7 584.7,848.9 590.7,863.1 596.6,847.0 602.5,857.4 608.5,848.0 614.4,863.1 620.3,854.6 626.3,866.0 632.2,864.1 638.2,851.8 644.1,857.4 650.0,864.1"/>
<polyline fill="none" stroke="#2452A8" stroke-width="0.85" stroke-linejoin="round" points="68.2,884.3 74.1,873.8 80.1,874.8 86.0,866.2 91.9,844.4 97.9,873.8 103.8,885.2 109.8,881.4 115.7,871.9 121.6,883.3 127.6,864.3 133.5,883.3 139.4,880.5 145.4,863.4 151.3,862.1 157.3,890.9 163.2,871.0 169.1,898.5 175.1,875.7 181.0,876.7 186.9,877.6 192.9,872.3 198.8,889.7 204.8,875.5 210.7,887.8 216.6,850.8 222.6,874.5 228.5,892.6 234.4,889.7 240.4,899.2 246.3,866.0 252.2,884.0 258.2,872.3 264.1,875.5 270.1,894.5 276.0,897.3 281.9,886.9 287.9,888.2 293.8,882.1 299.7,892.6 305.7,898.3 311.6,874.1 317.6,888.8 323.5,878.3 329.4,881.7 335.4,868.8 341.3,890.7 347.2,868.8 353.2,853.3 359.1,870.7 365.1,888.8 371.0,877.4 376.9,881.7 382.9,889.3 388.8,890.1 394.7,861.2 400.7,876.4 406.6,885.0 412.5,871.7 418.5,885.0 424.4,866.9 430.4,865.0 436.3,836.2 442.2,865.0 448.2,898.3 454.1,859.0 460.0,887.8 466.0,860.3 471.9,895.4 477.9,848.0 483.8,893.5 489.7,876.4 495.7,883.1 501.6,899.2 507.5,889.7 513.5,882.1 519.4,898.3 525.3,880.2 531.3,886.9 537.2,892.6 543.2,870.7 549.1,866.0 555.0,896.4 561.0,884.0 566.9,885.9 572.8,882.1 578.8,864.7 584.7,895.4 590.7,888.8 596.6,886.9 602.5,870.7 608.5,870.7 614.4,885.9 620.3,901.1 626.3,894.5 632.2,866.0 638.2,878.3 644.1,883.1 650.0,861.2"/>
<polyline fill="none" stroke="#2452A8" stroke-width="0.85" stroke-linejoin="round" points="68.2,906.1 74.1,906.9 80.1,907.4 86.0,909.0 91.9,905.5 97.9,908.4 103.8,908.4 109.8,908.0 115.7,907.4 121.6,908.8 127.6,909.7 133.5,911.2 139.4,909.7 145.4,911.2 151.3,904.6 157.3,909.7 163.2,904.6 169.1,916.9 175.1,904.6 181.0,915.0 186.9,914.3 192.9,910.9 198.8,903.7 204.8,905.6 210.7,908.4 216.6,899.5 222.6,899.1 228.5,909.0 234.4,916.6 240.4,917.9 246.3,906.7 252.2,909.4 258.2,904.2 264.1,907.1 270.1,915.2 276.0,910.5 281.9,907.7 287.9,910.9 293.8,914.3 299.7,920.0 305.7,914.7 311.6,895.7 317.6,908.0 323.5,909.5 329.4,898.5 335.4,899.5 341.3,917.5 347.2,910.5 353.2,903.7 359.1,902.3 365.1,906.1 371.0,908.0 376.9,908.6 382.9,912.4 388.8,913.3 394.7,908.0 400.7,902.3 406.6,905.8 412.5,908.0 418.5,909.5 424.4,905.8 430.4,903.7 436.3,895.7 442.2,896.6 448.2,922.3 454.1,908.6 460.0,904.2 466.0,904.8 471.9,907.1 477.9,908.4 483.8,908.4 489.7,899.1 495.7,911.8 501.6,923.2 507.5,909.9 513.5,909.5 519.4,914.3 525.3,899.5 531.3,907.7 537.2,913.3 543.2,906.1 549.1,903.7 555.0,912.8 561.0,896.6 566.9,909.0 572.8,906.7 578.8,901.4 584.7,916.2 590.7,916.2 596.6,903.7 602.5,903.7 608.5,900.4 614.4,909.9 620.3,912.4 626.3,919.4 632.2,898.5 638.2,901.8 644.1,905.2 650.0,894.2"/>
<polyline fill="none" stroke="#2452A8" stroke-width="0.85" stroke-linejoin="round" points="68.2,929.3 74.1,930.6 80.1,926.8 86.0,935.5 91.9,935.9 97.9,934.4 103.8,934.0 109.8,948.3 115.7,931.7 121.6,932.1 127.6,931.7 133.5,942.0 139.4,931.2 145.4,943.1 151.3,927.4 157.3,931.2 163.2,930.2 169.1,937.8 175.1,927.4 181.0,947.3 186.9,930.8 192.9,927.4 198.8,930.2 204.8,926.4 210.7,931.2 216.6,927.6 222.6,920.4 228.5,927.0 234.4,939.3 240.4,939.3 246.3,926.6 252.2,933.7 258.2,941.2 264.1,934.0 270.1,933.3 276.0,923.2 281.9,930.8 287.9,929.9 293.8,946.6 299.7,932.1 305.7,935.5 311.6,915.1 317.6,943.1 323.5,928.0 329.4,912.4 335.4,925.7 341.3,943.5 347.2,930.2 353.2,925.7 359.1,927.4 365.1,921.7 371.0,925.1 376.9,939.9 382.9,935.5 388.8,933.7 394.7,919.8 400.7,928.5 406.6,918.8 412.5,935.5 418.5,926.1 424.4,921.3 430.4,932.1 436.3,919.4 442.2,915.6 448.2,939.9 454.1,933.7 460.0,939.7 466.0,929.9 471.9,949.4 477.9,924.2 483.8,926.1 489.7,918.5 495.7,930.8 501.6,938.0 507.5,920.0 513.5,939.3 519.4,935.5 525.3,918.5 531.3,930.8 537.2,928.9 543.2,924.5 549.1,938.4 555.0,938.4 561.0,909.0 566.9,940.3 572.8,923.2 578.8,927.0 584.7,928.9 590.7,934.0 596.6,934.0 602.5,918.5 608.5,929.9 614.4,932.1 620.3,918.5 626.3,933.3 632.2,924.5 638.2,919.0 644.1,927.0 650.0,918.1"/>
<g stroke="#000" stroke-width="0.75" fill="none">
<path d="M45.0 603.5H673.0" stroke-width="0.5"/>
<path d="M45.0 603.25V963.85M673.0 603.25V963.85"/>
<path d="M45.0 963.5H673.0" stroke-width="0.7"/>
<path d="M38.9 953.41H45.0M38.9 906.40H45.0M38.9 859.38H45.0M38.9 812.37H45.0M38.9 765.36H45.0M38.9 718.34H45.0M38.9 671.32H45.0M38.9 624.31H45.0M68.50 963.5v6M187.10 963.5v6M305.70 963.5v6M424.30 963.5v6M542.90 963.5v6M661.50 963.5v6"/>
</g>
<text transform="translate(31.3 953.41) rotate(-90)" text-anchor="middle" class="tkb">-5</text>
<text transform="translate(31.3 906.40) rotate(-90)" text-anchor="middle" class="tkb">0</text>
<text transform="translate(31.3 859.38) rotate(-90)" text-anchor="middle" class="tkb">5</text>
<text transform="translate(31.3 812.37) rotate(-90)" text-anchor="middle" class="tkb">10</text>
<text transform="translate(31.3 765.36) rotate(-90)" text-anchor="middle" class="tkb">15</text>
<text transform="translate(31.3 718.34) rotate(-90)" text-anchor="middle" class="tkb">20</text>
<text transform="translate(31.3 671.32) rotate(-90)" text-anchor="middle" class="tkb">25</text>
<text transform="translate(31.3 624.31) rotate(-90)" text-anchor="middle" class="tkb">30</text>
<text x="68.50" y="984.4" text-anchor="middle" class="tkb">0</text>
<text x="187.10" y="984.4" text-anchor="middle" class="tkb">20</text>
<text x="305.70" y="984.4" text-anchor="middle" class="tkb">40</text>
<text x="424.30" y="984.4" text-anchor="middle" class="tkb">60</text>
<text x="542.90" y="984.4" text-anchor="middle" class="tkb">80</text>
<text x="661.50" y="984.4" text-anchor="middle" class="tkb">100</text>
<text transform="translate(8.1 783.3) rotate(-90)" text-anchor="middle" class="tkb">Importance</text>
<text x="359" y="1007.9" text-anchor="middle" class="tkb">Classifier run</text>
</g>
</svg></body></html>
